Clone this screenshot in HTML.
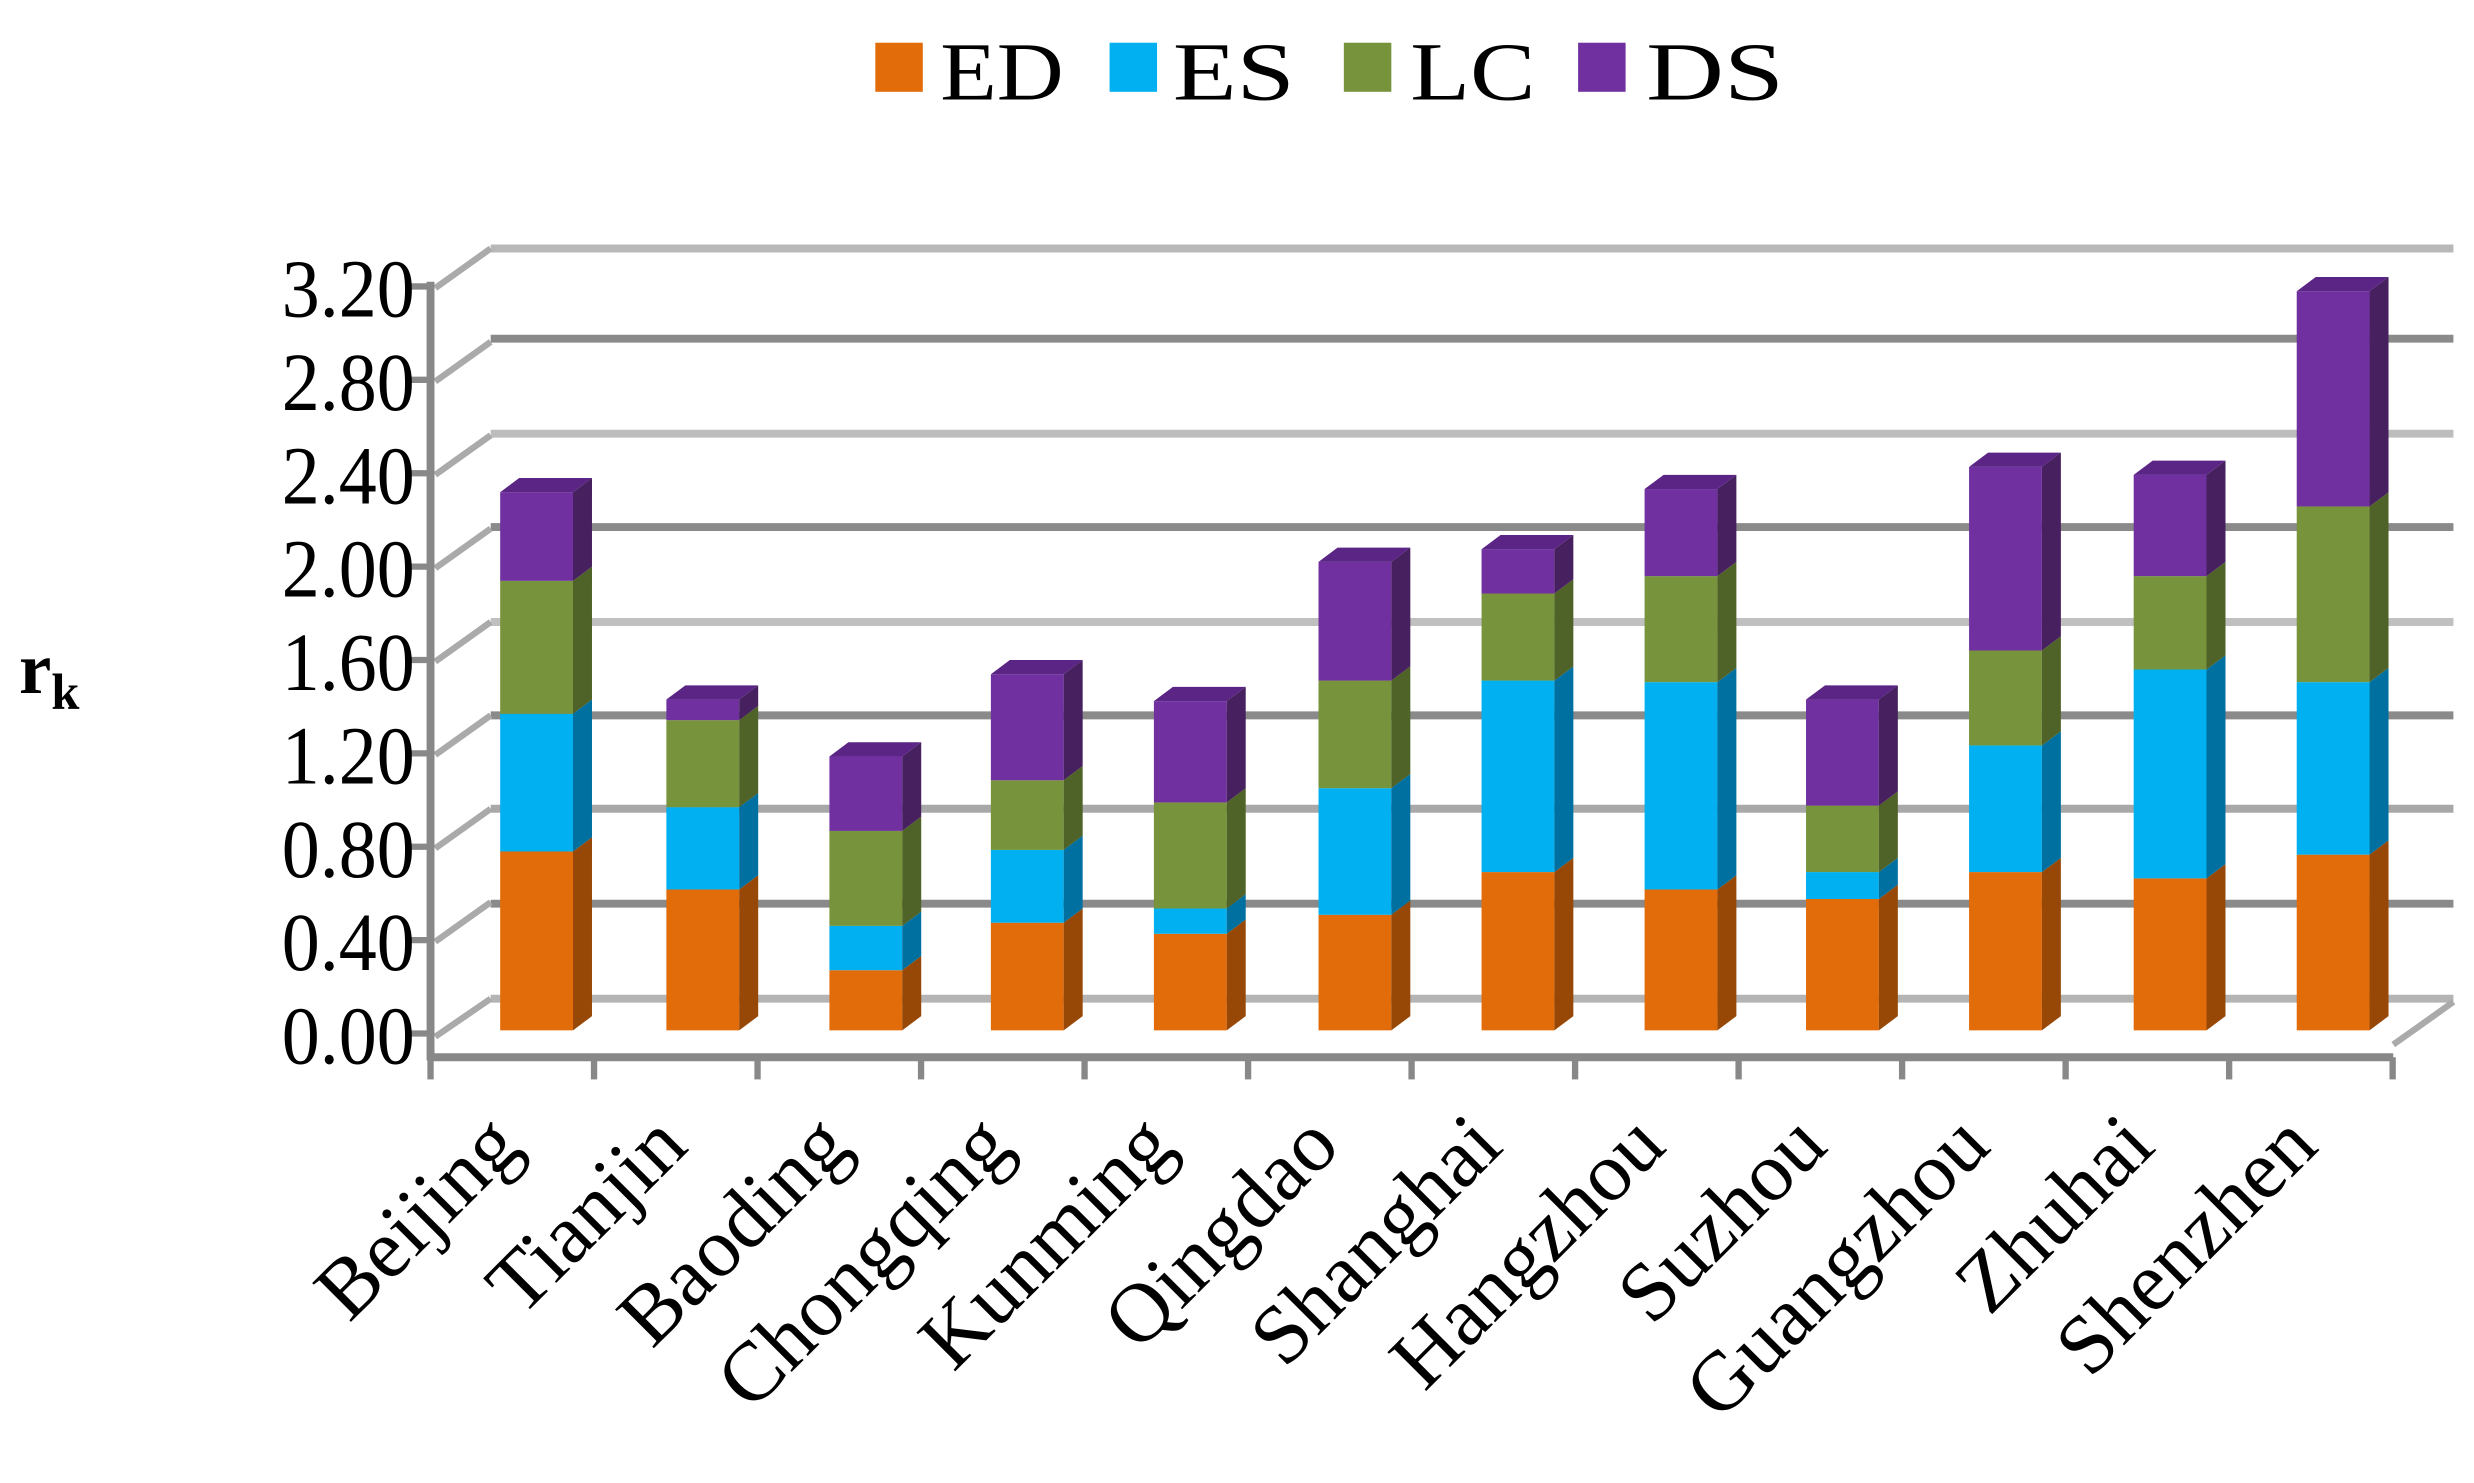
<!DOCTYPE html>
<html><head><meta charset="utf-8"><style>html,body{margin:0;padding:0;background:#fff}svg{display:block}</style></head>
<body>
<svg width="2474" height="1483" viewBox="0 0 1563 937" preserveAspectRatio="none" xmlns="http://www.w3.org/2000/svg" font-family="Liberation Serif, serif">
<g font-size="52">
<rect x="553" y="27" width="30" height="31" fill="#e36c0a"/><text x="594" y="63" textLength="78" lengthAdjust="spacingAndGlyphs">ED</text>
<rect x="701" y="27" width="30" height="31" fill="#00b0f0"/><text x="741" y="63" textLength="77" lengthAdjust="spacingAndGlyphs">ES</text>
<rect x="849" y="27" width="30" height="31" fill="#77933c"/><text x="891" y="63" textLength="79" lengthAdjust="spacingAndGlyphs">LC</text>
<rect x="997" y="27" width="30" height="31" fill="#7030a0"/><text x="1040" y="63" textLength="87" lengthAdjust="spacingAndGlyphs">DS</text>
</g>
<g id="grid" stroke-width="5">
<line x1="310" y1="157" x2="1550" y2="157" stroke="#b8b8b8"/>
<line x1="310" y1="214" x2="1550" y2="214" stroke="#8a8a8a"/>
<line x1="310" y1="274" x2="1550" y2="274" stroke="#bdbdbd"/>
<line x1="310" y1="333" x2="1550" y2="333" stroke="#8a8a8a"/>
<line x1="310" y1="393" x2="1550" y2="393" stroke="#c0c0c0"/>
<line x1="310" y1="452" x2="1550" y2="452" stroke="#8a8a8a"/>
<line x1="310" y1="511" x2="1550" y2="511" stroke="#a8a8a8"/>
<line x1="310" y1="571" x2="1550" y2="571" stroke="#8a8a8a"/>
<line x1="310" y1="631" x2="1550" y2="631" stroke="#b4b4b4"/>
</g>
<g stroke="#aaa" stroke-width="4">
<line x1="275" y1="182" x2="310" y2="157"/><line x1="275" y1="241" x2="310" y2="216"/>
<line x1="275" y1="300" x2="310" y2="275"/><line x1="275" y1="359" x2="310" y2="334"/>
<line x1="275" y1="418" x2="310" y2="393"/><line x1="275" y1="477" x2="310" y2="452"/>
<line x1="275" y1="536" x2="310" y2="511"/><line x1="275" y1="595" x2="310" y2="570"/>
<line x1="275" y1="655" x2="310" y2="631"/>
<line x1="1512" y1="660" x2="1550" y2="633"/>
</g>
<g stroke="#888" stroke-width="5">
<line x1="272" y1="178" x2="272" y2="670"/>
<line x1="270" y1="668" x2="1512" y2="668"/>
</g>
<g stroke="#888" stroke-width="4">
<line x1="258" y1="181" x2="272" y2="181"/><line x1="258" y1="240" x2="272" y2="240"/>
<line x1="258" y1="299" x2="272" y2="299"/><line x1="258" y1="358" x2="272" y2="358"/>
<line x1="258" y1="417" x2="272" y2="417"/><line x1="258" y1="476" x2="272" y2="476"/>
<line x1="258" y1="535" x2="272" y2="535"/><line x1="258" y1="594" x2="272" y2="594"/>
<line x1="258" y1="653" x2="272" y2="653"/>
</g>
<g stroke="#888" stroke-width="4" id="xt"></g>
<g font-size="52" text-anchor="end">
<text x="262" y="200" textLength="84" lengthAdjust="spacingAndGlyphs">3.20</text><text x="262" y="259" textLength="84" lengthAdjust="spacingAndGlyphs">2.80</text><text x="262" y="318" textLength="84" lengthAdjust="spacingAndGlyphs">2.40</text>
<text x="262" y="377" textLength="84" lengthAdjust="spacingAndGlyphs">2.00</text><text x="262" y="436" textLength="84" lengthAdjust="spacingAndGlyphs">1.60</text><text x="262" y="495" textLength="84" lengthAdjust="spacingAndGlyphs">1.20</text>
<text x="262" y="554" textLength="84" lengthAdjust="spacingAndGlyphs">0.80</text><text x="262" y="613" textLength="84" lengthAdjust="spacingAndGlyphs">0.40</text><text x="262" y="672" textLength="84" lengthAdjust="spacingAndGlyphs">0.00</text>
</g>
<text x="12" y="438" font-size="46" font-weight="bold">r<tspan font-size="32" dy="10">k</tspan></text>
<g id="bars"></g>
<g id="labels" font-size="53" text-anchor="end"></g>
<script>
var ns="http://www.w3.org/2000/svg";
var xs=[316,421,524,626,729,833,936,1039,1141,1244,1348,1451];
var names=["Beijing","Tianjin","Baoding","Chongqing","Kunming","Qingdao","Shanghai","Hangzhou","Suzhou","Guangzhou","Zhuhai","Shenzhen"];
var d=[[538,451,367,311],[562,510,455,442],[613,585,525,478],[583,537,493,426],[590,574,507,443],[578,498,430,355],[551,430,375,347],[562,431,364,309],[568,551,509,442],[551,471,411,295],[555,423,364,300],[540,431,320,184]];
var fr=["#e36c0a","#00b0f0","#77933c","#7030a0"],sd=["#974806","#0070a0","#4f6228","#47205f"],tp=["#f08a3a","#40c8f8","#8fab50","#5a2585"];
var B=document.getElementById("bars"),L=document.getElementById("labels"),X=document.getElementById("xt");
function el(t,a,p){var e=document.createElementNS(ns,t);for(var k in a)e.setAttribute(k,a[k]);p.appendChild(e);return e;}
for(var i=0;i<=12;i++){var tx=272+i*103.3;el("line",{x1:tx,y1:668,x2:tx,y2:682},X);}
for(var i=0;i<12;i++){
 var x=xs[i],w=46,s=12,dp=9,bot=651,prev=bot;
 for(var j=0;j<4;j++){var y=d[i][j];
  el("rect",{x:x,y:y,width:w,height:prev-y,fill:fr[j]},B);
  el("polygon",{points:(x+w)+","+y+" "+(x+w+s)+","+(y-dp)+" "+(x+w+s)+","+(prev-dp)+" "+(x+w)+","+prev,fill:sd[j]},B);
  prev=y;}
 var t=d[i][3];
 el("polygon",{points:x+","+t+" "+(x+s)+","+(t-dp)+" "+(x+w+s)+","+(t-dp)+" "+(x+w)+","+t,fill:tp[3]},B);
 var cx=x+w/2-8,cy=726;
 var tt=el("text",{x:cx,y:cy,transform:"rotate(-45 "+cx+" "+cy+")"},L);tt.textContent=names[i];
}
</script>
</svg>
</body></html>
